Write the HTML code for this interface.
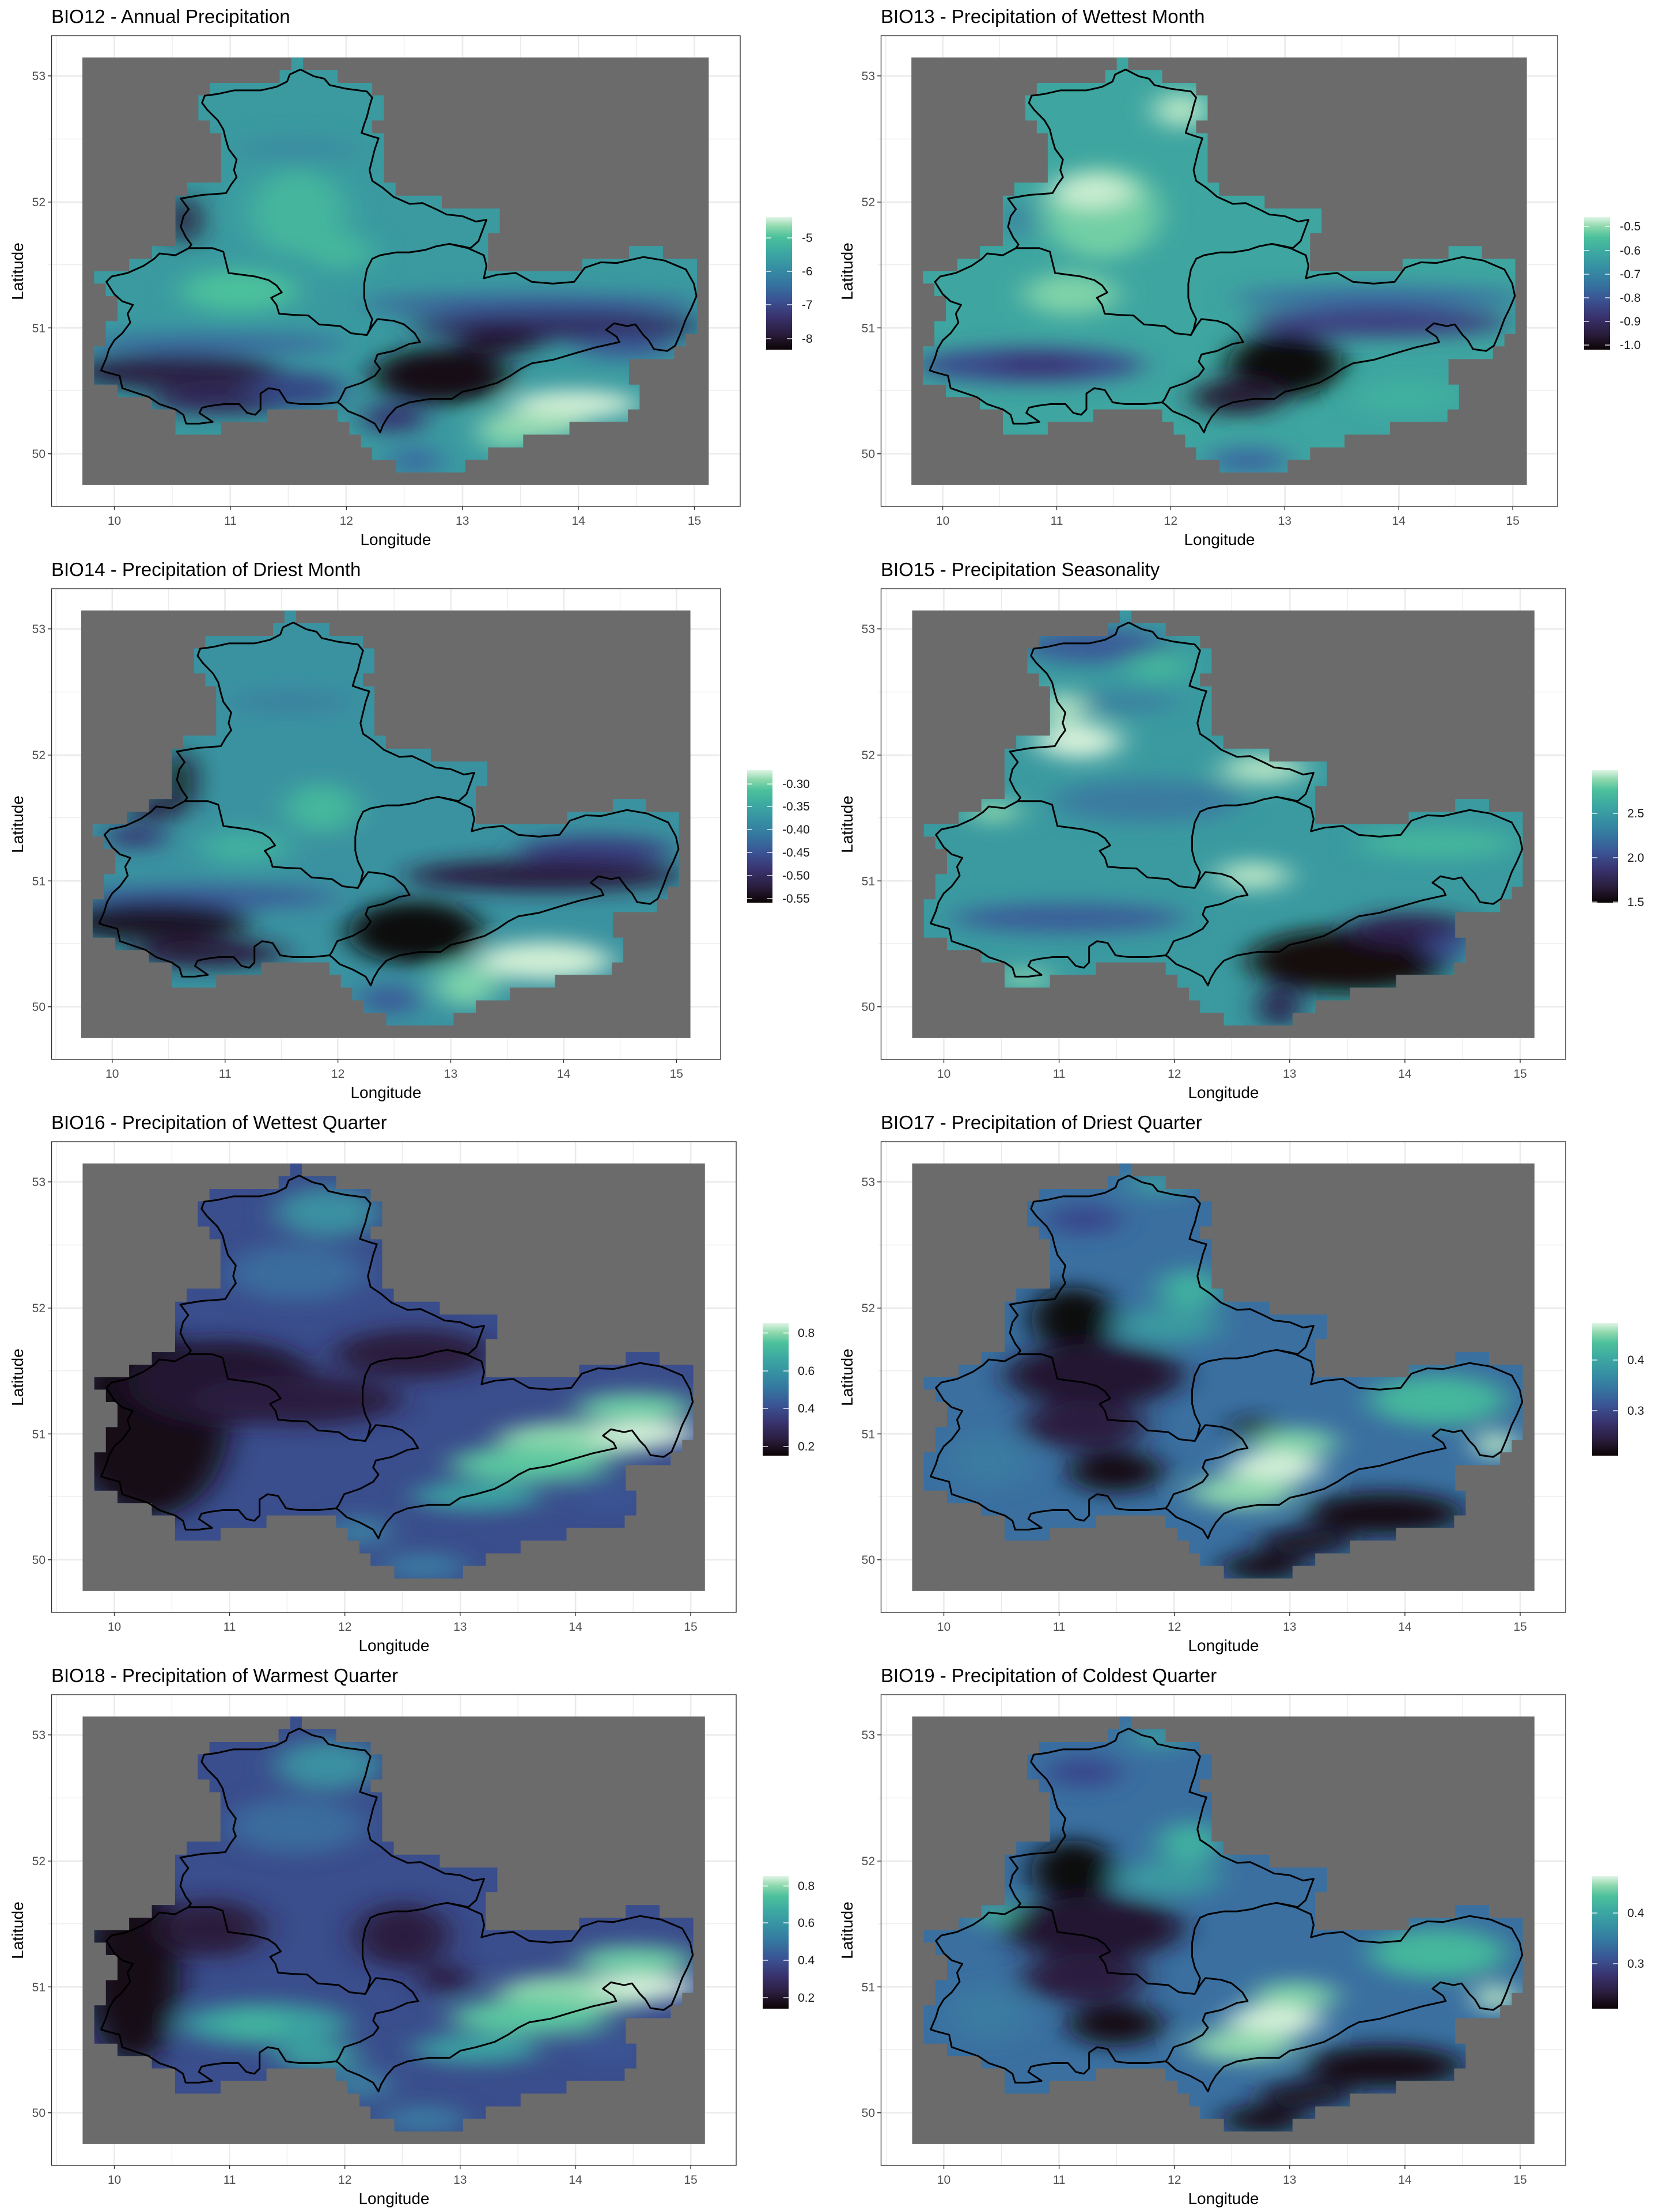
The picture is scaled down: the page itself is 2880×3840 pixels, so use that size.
<!DOCTYPE html>
<html><head><meta charset="utf-8"><style>
html,body{margin:0;padding:0;background:#fff}
svg{display:block}
text{font-family:"Liberation Sans",sans-serif}
.t{font-size:33px;fill:#000}
.tk{font-size:21px;fill:#4d4d4d}
.ax{font-size:28px;fill:#000}
.lg{font-size:21px;fill:#1a1a1a}
</style></head><body>
<svg xmlns="http://www.w3.org/2000/svg" xmlns:xlink="http://www.w3.org/1999/xlink" width="2880" height="3840" viewBox="0 0 2880 3840">
<defs>
<clipPath id="m"><polygon points="548,162 570,162 570,198 635,198 635,234 700,234 700,269 722,269 722,340 700,340 700,376 722,376 722,515 744,515 744,552 831,552 831,588 940,588 940,658 918,658 918,765 1095,765 1095,730 1183,730 1183,694 1247,694 1247,730 1311,730 1311,942 1290,942 1290,977 1268,977 1268,1013 1183,1013 1183,1085 1203,1085 1203,1155 1181,1155 1181,1190 1071,1190 1071,1226 984,1226 984,1262 918,1262 918,1297 875,1297 875,1333 745,1333 745,1297 700,1297 700,1262 679,1262 679,1226 657,1226 657,1190 635,1190 635,1155 503,1155 503,1190 416,1190 416,1226 330,1226 330,1155 286,1155 286,1120 221,1120 221,1085 177,1085 177,977 199,977 199,906 221,906 221,835 199,835 199,800 177,800 177,765 243,765 243,730 286,730 286,694 330,694 330,552 352,552 352,515 416,515 416,376 395,376 395,340 373,340 373,269 395,269 395,234 526,234 526,198 548,198"/></clipPath>
<filter id="b" x="-60%" y="-60%" width="220%" height="220%"><feGaussianBlur stdDeviation="28"/></filter>
<linearGradient id="lgd" x1="0" y1="1" x2="0" y2="0">
<stop offset="0" stop-color="#0b0405"/><stop offset="0.12" stop-color="#2a1d3d"/><stop offset="0.25" stop-color="#39336f"/><stop offset="0.38" stop-color="#3a5494"/><stop offset="0.5" stop-color="#3575a0"/><stop offset="0.62" stop-color="#3690a3"/><stop offset="0.74" stop-color="#3da9a2"/><stop offset="0.85" stop-color="#4cc19b"/><stop offset="0.93" stop-color="#8fd8ad"/><stop offset="1" stop-color="#def5e5"/>
</linearGradient>
<g id="grid" fill="none" stroke="#ebebeb">
<g stroke-width="1.3" vector-effect="non-scaling-stroke">
<line x1="106" y1="101" x2="106" y2="1428" vector-effect="non-scaling-stroke"/><line x1="324" y1="101" x2="324" y2="1428" vector-effect="non-scaling-stroke"/><line x1="542" y1="101" x2="542" y2="1428" vector-effect="non-scaling-stroke"/><line x1="760" y1="101" x2="760" y2="1428" vector-effect="non-scaling-stroke"/><line x1="979" y1="101" x2="979" y2="1428" vector-effect="non-scaling-stroke"/><line x1="1197" y1="101" x2="1197" y2="1428" vector-effect="non-scaling-stroke"/>
<line x1="90" y1="392" x2="1500" y2="392" vector-effect="non-scaling-stroke"/><line x1="90" y1="747" x2="1500" y2="747" vector-effect="non-scaling-stroke"/><line x1="90" y1="1102" x2="1500" y2="1102" vector-effect="non-scaling-stroke"/>
</g>
<g stroke-width="2.6">
<line x1="215" y1="101" x2="215" y2="1428" vector-effect="non-scaling-stroke"/><line x1="433" y1="101" x2="433" y2="1428" vector-effect="non-scaling-stroke"/><line x1="651" y1="101" x2="651" y2="1428" vector-effect="non-scaling-stroke"/><line x1="870" y1="101" x2="870" y2="1428" vector-effect="non-scaling-stroke"/><line x1="1088" y1="101" x2="1088" y2="1428" vector-effect="non-scaling-stroke"/><line x1="1306" y1="101" x2="1306" y2="1428" vector-effect="non-scaling-stroke"/>
<line x1="90" y1="214" x2="1500" y2="214" vector-effect="non-scaling-stroke"/><line x1="90" y1="570" x2="1500" y2="570" vector-effect="non-scaling-stroke"/><line x1="90" y1="925" x2="1500" y2="925" vector-effect="non-scaling-stroke"/><line x1="90" y1="1280" x2="1500" y2="1280" vector-effect="non-scaling-stroke"/>
</g>
</g>
<g id="bd" fill="none" stroke="#000" stroke-width="3" stroke-linejoin="round">
<polyline vector-effect="non-scaling-stroke" points="565,196 590,215 610,222 620,240 650,250 690,258 700,275 695,300 690,330 685,350 680,375 700,385 712,390 705,420 700,450 695,480 700,510 720,530 740,555 770,575 795,573 820,590 840,605 870,610 895,625 915,620 910,640 905,660 900,680 885,700 870,695 845,688 820,695 800,705 770,712 745,712 715,720 700,730 690,760 685,800 685,840 690,870 700,900 695,930 690,945 660,940 640,920 600,915 580,890 550,888 525,885 520,860 510,840 530,825 520,805 505,790 480,780 430,770 425,740 420,710 400,700 370,700 355,700 360,690 350,670 340,640 345,610 355,590 340,560 380,550 425,545 435,520 445,500 440,480 445,450 430,420 425,395 420,365 410,340 390,310 380,290 385,270 410,265 440,255 490,255 520,245 540,230 545,210 565,196"/>
<polyline vector-effect="non-scaling-stroke" points="690,945 700,920 710,900 740,905 760,915 780,940 790,965 770,970 740,990 710,1000 705,1020 715,1040 705,1060 680,1080 650,1095 640,1125 635,1135 600,1140 565,1140 540,1135 525,1100 505,1095 490,1110 490,1155 480,1170 465,1165 450,1140 420,1140 395,1145 380,1150 375,1165 390,1180 400,1190 375,1195 350,1195 345,1170 330,1155 300,1140 280,1120 250,1105 230,1095 225,1060 200,1050 190,1045 200,1010 205,985 215,960 230,940 245,910 240,885 250,860 230,850 215,830 200,795 210,780 240,770 270,750 290,730 300,715 330,720 355,700"/>
<polyline vector-effect="non-scaling-stroke" points="845,688 880,700 910,720 915,750 910,785 935,775 970,770 1000,795 1040,800 1080,795 1100,755 1130,740 1160,742 1210,725 1250,735 1290,760 1305,800 1310,835 1300,870 1290,900 1280,940 1270,975 1255,990 1230,985 1220,960 1210,945 1195,915 1180,920 1155,912 1140,930 1160,950 1165,965 1120,980 1085,995 1040,1015 1000,1025 980,1040 960,1060 935,1080 900,1095 870,1105 850,1125 810,1125 770,1135 745,1150 730,1175 720,1200 715,1220 705,1195 680,1175 655,1160 640,1140 635,1135"/>
</g>
</defs>

<!-- ================= PANEL 1 ================= -->
<g transform="translate(0,0)">
<g transform="matrix(0.923,0,0,0.6154,0,0)"><use xlink:href="#grid"/></g>
<rect x="1285" y="55" width="150" height="830" fill="#fff"/>
<g transform="matrix(0.923,0,0,0.6154,0,0)">
<rect x="155" y="162" width="1178" height="1206" fill="#6b6b6b"/>
<g clip-path="url(#m)"><rect x="150" y="150" width="1200" height="1200" fill="#3a9aa0"/>
<g filter="url(#b)">
<ellipse cx="560" cy="420" rx="120" ry="30" fill="#3a8aa0"/>
<ellipse cx="560" cy="600" rx="90" ry="120" fill="#44b69d"/>
<ellipse cx="450" cy="820" rx="110" ry="60" fill="#4cc19b"/>
<ellipse cx="640" cy="710" rx="60" ry="50" fill="#45b89c"/>
<ellipse cx="345" cy="620" rx="30" ry="70" fill="#2a1d3d"/>
<ellipse cx="400" cy="970" rx="250" ry="30" fill="#3a6a9e"/>
<ellipse cx="330" cy="1050" rx="200" ry="50" fill="#2b2045"/>
<ellipse cx="420" cy="1130" rx="140" ry="40" fill="#302a5a"/>
<ellipse cx="560" cy="1100" rx="90" ry="50" fill="#354785"/>
<ellipse cx="1000" cy="860" rx="320" ry="30" fill="#3a5f98"/>
<ellipse cx="1050" cy="920" rx="280" ry="40" fill="#332e63"/>
<ellipse cx="1180" cy="980" rx="100" ry="30" fill="#3b5a96"/>
<ellipse cx="830" cy="1060" rx="130" ry="80" fill="#150c14"/>
<ellipse cx="940" cy="960" rx="80" ry="40" fill="#241832"/>
<ellipse cx="740" cy="1180" rx="60" ry="40" fill="#35306e"/>
<ellipse cx="1080" cy="1140" rx="120" ry="40" fill="#d5f0d8"/>
<ellipse cx="1000" cy="1200" rx="100" ry="40" fill="#9bdcb3"/>
<ellipse cx="950" cy="1240" rx="50" ry="30" fill="#7ad3ac"/>
<ellipse cx="780" cy="1300" rx="50" ry="40" fill="#3a6aa0"/>
</g></g>
<use xlink:href="#bd"/>
</g>
<rect x="89.5" y="62" width="1195.5" height="817" fill="none" stroke="#333" stroke-width="1.4"/>
<text class="t" x="89" y="40">BIO12 - Annual Precipitation</text>
<g stroke="#333" stroke-width="1.4"><line x1="83" y1="131.7" x2="89.5" y2="131.7"/><line x1="83" y1="350.8" x2="89.5" y2="350.8"/><line x1="83" y1="569.2" x2="89.5" y2="569.2"/><line x1="83" y1="787.7" x2="89.5" y2="787.7"/>
<line x1="198.5" y1="879" x2="198.5" y2="885"/><line x1="399.9" y1="879" x2="399.9" y2="885"/><line x1="601.3" y1="879" x2="601.3" y2="885"/><line x1="802.7" y1="879" x2="802.7" y2="885"/><line x1="1004.1" y1="879" x2="1004.1" y2="885"/><line x1="1205.5" y1="879" x2="1205.5" y2="885"/></g>
<g class="tk" text-anchor="end"><text x="79" y="139">53</text><text x="79" y="358">52</text><text x="79" y="577">51</text><text x="79" y="795">50</text></g>
<g class="tk" text-anchor="middle"><text x="198.5" y="911">10</text><text x="399.9" y="911">11</text><text x="601.3" y="911">12</text><text x="802.7" y="911">13</text><text x="1004.1" y="911">14</text><text x="1205.5" y="911">15</text></g>
<text class="ax" x="687" y="946" text-anchor="middle">Longitude</text>
<text class="ax" transform="translate(40,471) rotate(-90)" text-anchor="middle">Latitude</text>
<rect x="1330" y="377" width="45" height="230" fill="url(#lgd)"/>
<g stroke="#fff" stroke-width="1.3"><line x1="1330" y1="413" x2="1339" y2="413"/><line x1="1366" y1="413" x2="1375" y2="413"/><line x1="1330" y1="471" x2="1339" y2="471"/><line x1="1366" y1="471" x2="1375" y2="471"/><line x1="1330" y1="529" x2="1339" y2="529"/><line x1="1366" y1="529" x2="1375" y2="529"/><line x1="1330" y1="588" x2="1339" y2="588"/><line x1="1366" y1="588" x2="1375" y2="588"/></g>
<g class="lg"><text x="1392" y="420">-5</text><text x="1392" y="478">-6</text><text x="1392" y="536">-7</text><text x="1392" y="595">-8</text></g>
</g>

<!-- ================= PANEL 2 ================= -->
<g transform="translate(1440,0)">
<g transform="matrix(0.907,0,0,0.6154,1.6,0)"><use xlink:href="#grid"/></g>
<rect x="1264" y="55" width="170" height="830" fill="#fff"/>
<g transform="matrix(0.907,0,0,0.6154,1.6,0)">
<rect x="155" y="162" width="1178" height="1206" fill="#6b6b6b"/>
<g clip-path="url(#m)"><rect x="150" y="150" width="1200" height="1200" fill="#3ea5a0"/>
<g filter="url(#b)">
<ellipse cx="520" cy="600" rx="110" ry="130" fill="#72cfa5"/>
<ellipse cx="500" cy="540" rx="80" ry="50" fill="#c8ecd0"/>
<ellipse cx="670" cy="310" rx="50" ry="50" fill="#b7e6c6"/>
<ellipse cx="460" cy="830" rx="90" ry="60" fill="#7fd3a8"/>
<ellipse cx="360" cy="620" rx="30" ry="50" fill="#3a80a0"/>
<ellipse cx="1050" cy="840" rx="280" ry="30" fill="#3a6aa0"/>
<ellipse cx="1050" cy="910" rx="250" ry="40" fill="#3c3d80"/>
<ellipse cx="380" cy="1030" rx="220" ry="50" fill="#3a4a8c"/>
<ellipse cx="400" cy="1030" rx="90" ry="25" fill="#3b2f6e"/>
<ellipse cx="870" cy="1030" rx="110" ry="90" fill="#0f0810"/>
<ellipse cx="780" cy="1120" rx="90" ry="50" fill="#251a35"/>
<ellipse cx="1100" cy="1120" rx="100" ry="40" fill="#41b3a0"/>
<ellipse cx="800" cy="1300" rx="80" ry="40" fill="#3a6aa0"/>
</g></g>
<use xlink:href="#bd"/>
</g>
<rect x="89.5" y="62" width="1174.5" height="817" fill="none" stroke="#333" stroke-width="1.4"/>
<text class="t" x="89" y="40">BIO13 - Precipitation of Wettest Month</text>
<g stroke="#333" stroke-width="1.4"><line x1="83" y1="131.7" x2="89.5" y2="131.7"/><line x1="83" y1="350.8" x2="89.5" y2="350.8"/><line x1="83" y1="569.2" x2="89.5" y2="569.2"/><line x1="83" y1="787.7" x2="89.5" y2="787.7"/>
<line x1="196.6" y1="879" x2="196.6" y2="885"/><line x1="394.5" y1="879" x2="394.5" y2="885"/><line x1="592.4" y1="879" x2="592.4" y2="885"/><line x1="790.3" y1="879" x2="790.3" y2="885"/><line x1="988.2" y1="879" x2="988.2" y2="885"/><line x1="1186.1" y1="879" x2="1186.1" y2="885"/></g>
<g class="tk" text-anchor="end"><text x="79" y="139">53</text><text x="79" y="358">52</text><text x="79" y="577">51</text><text x="79" y="795">50</text></g>
<g class="tk" text-anchor="middle"><text x="196.6" y="911">10</text><text x="394.5" y="911">11</text><text x="592.4" y="911">12</text><text x="790.3" y="911">13</text><text x="988.2" y="911">14</text><text x="1186.1" y="911">15</text></g>
<text class="ax" x="677" y="946" text-anchor="middle">Longitude</text>
<text class="ax" transform="translate(40,471) rotate(-90)" text-anchor="middle">Latitude</text>
<rect x="1310" y="377" width="45" height="230" fill="url(#lgd)"/>
<g stroke="#fff" stroke-width="1.3"><line x1="1310" y1="393" x2="1319" y2="393"/><line x1="1346" y1="393" x2="1355" y2="393"/><line x1="1310" y1="435" x2="1319" y2="435"/><line x1="1346" y1="435" x2="1355" y2="435"/><line x1="1310" y1="476" x2="1319" y2="476"/><line x1="1346" y1="476" x2="1355" y2="476"/><line x1="1310" y1="517" x2="1319" y2="517"/><line x1="1346" y1="517" x2="1355" y2="517"/><line x1="1310" y1="558" x2="1319" y2="558"/><line x1="1346" y1="558" x2="1355" y2="558"/><line x1="1310" y1="599" x2="1319" y2="599"/><line x1="1346" y1="599" x2="1355" y2="599"/></g>
<g class="lg"><text x="1372" y="400">-0.5</text><text x="1372" y="442">-0.6</text><text x="1372" y="483">-0.7</text><text x="1372" y="524">-0.8</text><text x="1372" y="565">-0.9</text><text x="1372" y="606">-1.0</text></g>
</g>

<!-- ================= PANEL 3 ================= -->
<g transform="translate(0,960)">
<g transform="matrix(0.8978,0,0,0.6154,1.8,0)"><use xlink:href="#grid"/></g>
<rect x="1251" y="55" width="180" height="830" fill="#fff"/>
<g transform="matrix(0.8978,0,0,0.6154,1.8,0)">
<rect x="155" y="162" width="1178" height="1206" fill="#6b6b6b"/>
<g clip-path="url(#m)"><rect x="150" y="150" width="1200" height="1200" fill="#3a92a0"/>
<g filter="url(#b)">
<ellipse cx="560" cy="420" rx="120" ry="30" fill="#3a80a0"/>
<ellipse cx="620" cy="720" rx="70" ry="70" fill="#45b89c"/>
<ellipse cx="470" cy="830" rx="90" ry="50" fill="#3fb0a0"/>
<ellipse cx="345" cy="640" rx="25" ry="80" fill="#150c14"/>
<ellipse cx="300" cy="720" rx="60" ry="30" fill="#2a1d3d"/>
<ellipse cx="260" cy="800" rx="60" ry="30" fill="#35306e"/>
<ellipse cx="400" cy="970" rx="250" ry="30" fill="#3a5a98"/>
<ellipse cx="300" cy="1040" rx="180" ry="55" fill="#1e1428"/>
<ellipse cx="400" cy="1130" rx="150" ry="40" fill="#2a1d3d"/>
<ellipse cx="1150" cy="840" rx="150" ry="40" fill="#383d7e"/>
<ellipse cx="1050" cy="910" rx="270" ry="45" fill="#2b1f40"/>
<ellipse cx="800" cy="1070" rx="130" ry="90" fill="#0e0710"/>
<ellipse cx="1050" cy="1150" rx="130" ry="55" fill="#d0eed5"/>
<ellipse cx="900" cy="1220" rx="60" ry="60" fill="#7cd3ab"/>
<ellipse cx="750" cy="1260" rx="60" ry="40" fill="#3a5a98"/>
</g></g>
<use xlink:href="#bd"/>
</g>
<rect x="89.5" y="62" width="1161.5" height="817" fill="none" stroke="#333" stroke-width="1.4"/>
<text class="t" x="89" y="40">BIO14 - Precipitation of Driest Month</text>
<g stroke="#333" stroke-width="1.4"><line x1="83" y1="131.7" x2="89.5" y2="131.7"/><line x1="83" y1="350.8" x2="89.5" y2="350.8"/><line x1="83" y1="569.2" x2="89.5" y2="569.2"/><line x1="83" y1="787.7" x2="89.5" y2="787.7"/>
<line x1="194.8" y1="879" x2="194.8" y2="885"/><line x1="390.7" y1="879" x2="390.7" y2="885"/><line x1="586.6" y1="879" x2="586.6" y2="885"/><line x1="782.5" y1="879" x2="782.5" y2="885"/><line x1="978.4" y1="879" x2="978.4" y2="885"/><line x1="1174.3" y1="879" x2="1174.3" y2="885"/></g>
<g class="tk" text-anchor="end"><text x="79" y="139">53</text><text x="79" y="358">52</text><text x="79" y="577">51</text><text x="79" y="795">50</text></g>
<g class="tk" text-anchor="middle"><text x="194.8" y="911">10</text><text x="390.7" y="911">11</text><text x="586.6" y="911">12</text><text x="782.5" y="911">13</text><text x="978.4" y="911">14</text><text x="1174.3" y="911">15</text></g>
<text class="ax" x="670" y="946" text-anchor="middle">Longitude</text>
<text class="ax" transform="translate(40,471) rotate(-90)" text-anchor="middle">Latitude</text>
<rect x="1297" y="377" width="44" height="230" fill="url(#lgd)"/>
<g stroke="#fff" stroke-width="1.3"><line x1="1297" y1="401" x2="1306" y2="401"/><line x1="1332" y1="401" x2="1341" y2="401"/><line x1="1297" y1="440" x2="1306" y2="440"/><line x1="1332" y1="440" x2="1341" y2="440"/><line x1="1297" y1="480" x2="1306" y2="480"/><line x1="1332" y1="480" x2="1341" y2="480"/><line x1="1297" y1="520" x2="1306" y2="520"/><line x1="1332" y1="520" x2="1341" y2="520"/><line x1="1297" y1="560" x2="1306" y2="560"/><line x1="1332" y1="560" x2="1341" y2="560"/><line x1="1297" y1="600" x2="1306" y2="600"/><line x1="1332" y1="600" x2="1341" y2="600"/></g>
<g class="lg"><text x="1358" y="408">-0.30</text><text x="1358" y="447">-0.35</text><text x="1358" y="487">-0.40</text><text x="1358" y="527">-0.45</text><text x="1358" y="567">-0.50</text><text x="1358" y="607">-0.55</text></g>
</g>

<!-- ================= PANEL 4 ================= -->
<g transform="translate(1440,960)">
<g transform="matrix(0.9171,0,0,0.6154,1.3,0)"><use xlink:href="#grid"/></g>
<rect x="1278" y="55" width="155" height="830" fill="#fff"/>
<g transform="matrix(0.9171,0,0,0.6154,1.3,0)">
<rect x="155" y="162" width="1178" height="1206" fill="#6b6b6b"/>
<g clip-path="url(#m)"><rect x="150" y="150" width="1200" height="1200" fill="#3a9aa0"/>
<g filter="url(#b)">
<ellipse cx="500" cy="260" rx="140" ry="50" fill="#3a5c98"/>
<ellipse cx="620" cy="320" rx="60" ry="40" fill="#45b89c"/>
<ellipse cx="560" cy="420" rx="100" ry="30" fill="#3a80a0"/>
<ellipse cx="470" cy="530" rx="80" ry="50" fill="#d5f0d9"/>
<ellipse cx="440" cy="440" rx="40" ry="50" fill="#b6e4c5"/>
<ellipse cx="820" cy="610" rx="80" ry="40" fill="#b5e4c4"/>
<ellipse cx="600" cy="700" rx="180" ry="60" fill="#3a7aa0"/>
<ellipse cx="310" cy="730" rx="50" ry="30" fill="#8fd8ad"/>
<ellipse cx="800" cy="910" rx="70" ry="40" fill="#b6e4c6"/>
<ellipse cx="1150" cy="820" rx="150" ry="40" fill="#45b89c"/>
<ellipse cx="450" cy="1030" rx="220" ry="40" fill="#3a5c98"/>
<ellipse cx="370" cy="1200" rx="50" ry="25" fill="#8fd8ad"/>
<ellipse cx="980" cy="1150" rx="190" ry="90" fill="#120910"/>
<ellipse cx="1100" cy="1060" rx="120" ry="45" fill="#2d2350"/>
<ellipse cx="850" cy="1280" rx="40" ry="60" fill="#2a2350"/>
<ellipse cx="1170" cy="1110" rx="40" ry="40" fill="#3a4e90"/>
</g></g>
<use xlink:href="#bd"/>
</g>
<rect x="89.5" y="62" width="1188.5" height="817" fill="none" stroke="#333" stroke-width="1.4"/>
<text class="t" x="89" y="40">BIO15 - Precipitation Seasonality</text>
<g stroke="#333" stroke-width="1.4"><line x1="83" y1="131.7" x2="89.5" y2="131.7"/><line x1="83" y1="350.8" x2="89.5" y2="350.8"/><line x1="83" y1="569.2" x2="89.5" y2="569.2"/><line x1="83" y1="787.7" x2="89.5" y2="787.7"/>
<line x1="198.5" y1="879" x2="198.5" y2="885"/><line x1="398.6" y1="879" x2="398.6" y2="885"/><line x1="598.7" y1="879" x2="598.7" y2="885"/><line x1="798.8" y1="879" x2="798.8" y2="885"/><line x1="998.9" y1="879" x2="998.9" y2="885"/><line x1="1199" y1="879" x2="1199" y2="885"/></g>
<g class="tk" text-anchor="end"><text x="79" y="139">53</text><text x="79" y="358">52</text><text x="79" y="577">51</text><text x="79" y="795">50</text></g>
<g class="tk" text-anchor="middle"><text x="198.5" y="911">10</text><text x="398.6" y="911">11</text><text x="598.7" y="911">12</text><text x="798.8" y="911">13</text><text x="998.9" y="911">14</text><text x="1199" y="911">15</text></g>
<text class="ax" x="684" y="946" text-anchor="middle">Longitude</text>
<text class="ax" transform="translate(40,471) rotate(-90)" text-anchor="middle">Latitude</text>
<rect x="1324" y="377" width="45" height="230" fill="url(#lgd)"/>
<g stroke="#fff" stroke-width="1.3"><line x1="1324" y1="452" x2="1333" y2="452"/><line x1="1360" y1="452" x2="1369" y2="452"/><line x1="1324" y1="529" x2="1333" y2="529"/><line x1="1360" y1="529" x2="1369" y2="529"/><line x1="1324" y1="606" x2="1333" y2="606"/><line x1="1360" y1="606" x2="1369" y2="606"/></g>
<g class="lg"><text x="1385" y="459">2.5</text><text x="1385" y="536">2.0</text><text x="1385" y="613">1.5</text></g>
</g>

<!-- ================= PANEL 5 ================= -->
<g transform="translate(0,1920)">
<g transform="matrix(0.9171,0,0,0.6154,1.3,0)"><use xlink:href="#grid"/></g>
<rect x="1278" y="55" width="155" height="830" fill="#fff"/>
<g transform="matrix(0.9171,0,0,0.6154,1.3,0)">
<rect x="155" y="162" width="1178" height="1206" fill="#6b6b6b"/>
<g clip-path="url(#m)"><rect x="150" y="150" width="1200" height="1200" fill="#3a4d8c"/>
<g filter="url(#b)">
<ellipse cx="620" cy="300" rx="100" ry="70" fill="#3a90a0"/>
<ellipse cx="560" cy="470" rx="130" ry="80" fill="#3a6c9e"/>
<ellipse cx="280" cy="900" rx="150" ry="260" fill="#160c16"/>
<ellipse cx="420" cy="780" rx="180" ry="120" fill="#221830"/>
<ellipse cx="560" cy="830" rx="200" ry="70" fill="#2a1f40"/>
<ellipse cx="780" cy="700" rx="150" ry="70" fill="#2a1f3d"/>
<ellipse cx="1200" cy="850" rx="110" ry="40" fill="#6dcfa5"/>
<ellipse cx="1100" cy="940" rx="160" ry="50" fill="#8fd8ad"/>
<ellipse cx="1220" cy="925" rx="100" ry="35" fill="#d8f2dc"/>
<ellipse cx="1000" cy="1010" rx="150" ry="50" fill="#5cc8a0"/>
<ellipse cx="900" cy="1100" rx="120" ry="40" fill="#3aa4a2"/>
<ellipse cx="1150" cy="1100" rx="80" ry="40" fill="#3a5494"/>
<ellipse cx="800" cy="1300" rx="80" ry="40" fill="#3a7aa0"/>
<ellipse cx="680" cy="1200" rx="60" ry="40" fill="#3a80a0"/>
</g></g>
<use xlink:href="#bd"/>
</g>
<rect x="89.5" y="62" width="1188.5" height="817" fill="none" stroke="#333" stroke-width="1.4"/>
<text class="t" x="89" y="40">BIO16 - Precipitation of Wettest Quarter</text>
<g stroke="#333" stroke-width="1.4"><line x1="83" y1="131.7" x2="89.5" y2="131.7"/><line x1="83" y1="350.8" x2="89.5" y2="350.8"/><line x1="83" y1="569.2" x2="89.5" y2="569.2"/><line x1="83" y1="787.7" x2="89.5" y2="787.7"/>
<line x1="198.5" y1="879" x2="198.5" y2="885"/><line x1="398.6" y1="879" x2="398.6" y2="885"/><line x1="598.7" y1="879" x2="598.7" y2="885"/><line x1="798.8" y1="879" x2="798.8" y2="885"/><line x1="998.9" y1="879" x2="998.9" y2="885"/><line x1="1199" y1="879" x2="1199" y2="885"/></g>
<g class="tk" text-anchor="end"><text x="79" y="139">53</text><text x="79" y="358">52</text><text x="79" y="577">51</text><text x="79" y="795">50</text></g>
<g class="tk" text-anchor="middle"><text x="198.5" y="911">10</text><text x="398.6" y="911">11</text><text x="598.7" y="911">12</text><text x="798.8" y="911">13</text><text x="998.9" y="911">14</text><text x="1199" y="911">15</text></g>
<text class="ax" x="684" y="946" text-anchor="middle">Longitude</text>
<text class="ax" transform="translate(40,471) rotate(-90)" text-anchor="middle">Latitude</text>
<rect x="1324" y="377" width="45" height="230" fill="url(#lgd)"/>
<g stroke="#fff" stroke-width="1.3"><line x1="1324" y1="394" x2="1333" y2="394"/><line x1="1360" y1="394" x2="1369" y2="394"/><line x1="1324" y1="460" x2="1333" y2="460"/><line x1="1360" y1="460" x2="1369" y2="460"/><line x1="1324" y1="525" x2="1333" y2="525"/><line x1="1360" y1="525" x2="1369" y2="525"/><line x1="1324" y1="591" x2="1333" y2="591"/><line x1="1360" y1="591" x2="1369" y2="591"/></g>
<g class="lg"><text x="1385" y="401">0.8</text><text x="1385" y="467">0.6</text><text x="1385" y="532">0.4</text><text x="1385" y="598">0.2</text></g>
</g>

<!-- ================= PANEL 6 ================= -->
<g transform="translate(1440,1920)">
<g transform="matrix(0.9171,0,0,0.6154,1.3,0)"><use xlink:href="#grid"/></g>
<rect x="1278" y="55" width="155" height="830" fill="#fff"/>
<g transform="matrix(0.9171,0,0,0.6154,1.3,0)">
<rect x="155" y="162" width="1178" height="1206" fill="#6b6b6b"/>
<g clip-path="url(#m)"><rect x="150" y="150" width="1200" height="1200" fill="#3a6fa0"/>
<g filter="url(#b)">
<ellipse cx="620" cy="220" rx="60" ry="30" fill="#3aa0a0"/>
<ellipse cx="480" cy="320" rx="70" ry="40" fill="#38448a"/>
<ellipse cx="680" cy="520" rx="60" ry="60" fill="#3fb0a0"/>
<ellipse cx="640" cy="620" rx="100" ry="50" fill="#3a9aa0"/>
<ellipse cx="460" cy="600" rx="80" ry="90" fill="#0e0710"/>
<ellipse cx="500" cy="760" rx="170" ry="90" fill="#241831"/>
<ellipse cx="480" cy="900" rx="120" ry="70" fill="#2a1f40"/>
<ellipse cx="540" cy="1030" rx="90" ry="60" fill="#150c14"/>
<ellipse cx="300" cy="1000" rx="80" ry="80" fill="#3a7aa0"/>
<ellipse cx="800" cy="905" rx="40" ry="25" fill="#150c14"/>
<ellipse cx="880" cy="950" rx="80" ry="40" fill="#7fd3a8"/>
<ellipse cx="840" cy="1020" rx="90" ry="45" fill="#d5f0d9"/>
<ellipse cx="780" cy="1090" rx="100" ry="45" fill="#8fd8ad"/>
<ellipse cx="1150" cy="830" rx="130" ry="70" fill="#45b89c"/>
<ellipse cx="1260" cy="955" rx="40" ry="40" fill="#b6e4c5"/>
<ellipse cx="1050" cy="1150" rx="150" ry="60" fill="#150c14"/>
<ellipse cx="900" cy="1230" rx="90" ry="40" fill="#1e1428"/>
<ellipse cx="820" cy="1300" rx="80" ry="40" fill="#150c14"/>
</g></g>
<use xlink:href="#bd"/>
</g>
<rect x="89.5" y="62" width="1188.5" height="817" fill="none" stroke="#333" stroke-width="1.4"/>
<text class="t" x="89" y="40">BIO17 - Precipitation of Driest Quarter</text>
<g stroke="#333" stroke-width="1.4"><line x1="83" y1="131.7" x2="89.5" y2="131.7"/><line x1="83" y1="350.8" x2="89.5" y2="350.8"/><line x1="83" y1="569.2" x2="89.5" y2="569.2"/><line x1="83" y1="787.7" x2="89.5" y2="787.7"/>
<line x1="198.5" y1="879" x2="198.5" y2="885"/><line x1="398.6" y1="879" x2="398.6" y2="885"/><line x1="598.7" y1="879" x2="598.7" y2="885"/><line x1="798.8" y1="879" x2="798.8" y2="885"/><line x1="998.9" y1="879" x2="998.9" y2="885"/><line x1="1199" y1="879" x2="1199" y2="885"/></g>
<g class="tk" text-anchor="end"><text x="79" y="139">53</text><text x="79" y="358">52</text><text x="79" y="577">51</text><text x="79" y="795">50</text></g>
<g class="tk" text-anchor="middle"><text x="198.5" y="911">10</text><text x="398.6" y="911">11</text><text x="598.7" y="911">12</text><text x="798.8" y="911">13</text><text x="998.9" y="911">14</text><text x="1199" y="911">15</text></g>
<text class="ax" x="684" y="946" text-anchor="middle">Longitude</text>
<text class="ax" transform="translate(40,471) rotate(-90)" text-anchor="middle">Latitude</text>
<rect x="1324" y="377" width="45" height="230" fill="url(#lgd)"/>
<g stroke="#fff" stroke-width="1.3"><line x1="1324" y1="441" x2="1333" y2="441"/><line x1="1360" y1="441" x2="1369" y2="441"/><line x1="1324" y1="529" x2="1333" y2="529"/><line x1="1360" y1="529" x2="1369" y2="529"/></g>
<g class="lg"><text x="1385" y="448">0.4</text><text x="1385" y="536">0.3</text></g>
</g>

<!-- ================= PANEL 7 ================= -->
<g transform="translate(0,2880)">
<g transform="matrix(0.9171,0,0,0.6154,1.3,0)"><use xlink:href="#grid"/></g>
<rect x="1278" y="55" width="155" height="830" fill="#fff"/>
<g transform="matrix(0.9171,0,0,0.6154,1.3,0)">
<rect x="155" y="162" width="1178" height="1206" fill="#6b6b6b"/>
<g clip-path="url(#m)"><rect x="150" y="150" width="1200" height="1200" fill="#3a4d8c"/>
<g filter="url(#b)">
<ellipse cx="620" cy="300" rx="100" ry="70" fill="#3a90a0"/>
<ellipse cx="560" cy="470" rx="130" ry="80" fill="#3a6c9e"/>
<ellipse cx="250" cy="880" rx="90" ry="260" fill="#160c16"/>
<ellipse cx="400" cy="760" rx="100" ry="80" fill="#2a1f3d"/>
<ellipse cx="760" cy="780" rx="90" ry="90" fill="#2a1f40"/>
<ellipse cx="840" cy="900" rx="50" ry="40" fill="#2a1f40"/>
<ellipse cx="500" cy="1030" rx="160" ry="60" fill="#3aa0a0"/>
<ellipse cx="480" cy="1030" rx="60" ry="30" fill="#45b89c"/>
<ellipse cx="600" cy="1120" rx="80" ry="40" fill="#3aa2a0"/>
<ellipse cx="1200" cy="850" rx="110" ry="40" fill="#6dcfa5"/>
<ellipse cx="1100" cy="940" rx="160" ry="50" fill="#8fd8ad"/>
<ellipse cx="1220" cy="925" rx="100" ry="35" fill="#d8f2dc"/>
<ellipse cx="1000" cy="1010" rx="150" ry="50" fill="#5cc8a0"/>
<ellipse cx="900" cy="1100" rx="120" ry="40" fill="#3aa4a2"/>
<ellipse cx="1150" cy="1100" rx="80" ry="40" fill="#3a5494"/>
<ellipse cx="800" cy="1300" rx="80" ry="40" fill="#3a7aa0"/>
<ellipse cx="680" cy="1200" rx="60" ry="40" fill="#3a80a0"/>
</g></g>
<use xlink:href="#bd"/>
</g>
<rect x="89.5" y="62" width="1188.5" height="817" fill="none" stroke="#333" stroke-width="1.4"/>
<text class="t" x="89" y="40">BIO18 - Precipitation of Warmest Quarter</text>
<g stroke="#333" stroke-width="1.4"><line x1="83" y1="131.7" x2="89.5" y2="131.7"/><line x1="83" y1="350.8" x2="89.5" y2="350.8"/><line x1="83" y1="569.2" x2="89.5" y2="569.2"/><line x1="83" y1="787.7" x2="89.5" y2="787.7"/>
<line x1="198.5" y1="879" x2="198.5" y2="885"/><line x1="398.6" y1="879" x2="398.6" y2="885"/><line x1="598.7" y1="879" x2="598.7" y2="885"/><line x1="798.8" y1="879" x2="798.8" y2="885"/><line x1="998.9" y1="879" x2="998.9" y2="885"/><line x1="1199" y1="879" x2="1199" y2="885"/></g>
<g class="tk" text-anchor="end"><text x="79" y="139">53</text><text x="79" y="358">52</text><text x="79" y="577">51</text><text x="79" y="795">50</text></g>
<g class="tk" text-anchor="middle"><text x="198.5" y="911">10</text><text x="398.6" y="911">11</text><text x="598.7" y="911">12</text><text x="798.8" y="911">13</text><text x="998.9" y="911">14</text><text x="1199" y="911">15</text></g>
<text class="ax" x="684" y="946" text-anchor="middle">Longitude</text>
<text class="ax" transform="translate(40,471) rotate(-90)" text-anchor="middle">Latitude</text>
<rect x="1324" y="377" width="45" height="230" fill="url(#lgd)"/>
<g stroke="#fff" stroke-width="1.3"><line x1="1324" y1="394" x2="1333" y2="394"/><line x1="1360" y1="394" x2="1369" y2="394"/><line x1="1324" y1="458" x2="1333" y2="458"/><line x1="1360" y1="458" x2="1369" y2="458"/><line x1="1324" y1="523" x2="1333" y2="523"/><line x1="1360" y1="523" x2="1369" y2="523"/><line x1="1324" y1="588" x2="1333" y2="588"/><line x1="1360" y1="588" x2="1369" y2="588"/></g>
<g class="lg"><text x="1385" y="401">0.8</text><text x="1385" y="465">0.6</text><text x="1385" y="530">0.4</text><text x="1385" y="595">0.2</text></g>
</g>

<!-- ================= PANEL 8 ================= -->
<g transform="translate(1440,2880)">
<g transform="matrix(0.9171,0,0,0.6154,1.3,0)"><use xlink:href="#grid"/></g>
<rect x="1278" y="55" width="155" height="830" fill="#fff"/>
<g transform="matrix(0.9171,0,0,0.6154,1.3,0)">
<rect x="155" y="162" width="1178" height="1206" fill="#6b6b6b"/>
<g clip-path="url(#m)"><rect x="150" y="150" width="1200" height="1200" fill="#3a6fa0"/>
<g filter="url(#b)">
<ellipse cx="620" cy="220" rx="60" ry="30" fill="#3aa0a0"/>
<ellipse cx="480" cy="320" rx="70" ry="40" fill="#38448a"/>
<ellipse cx="680" cy="520" rx="60" ry="60" fill="#3fb0a0"/>
<ellipse cx="640" cy="620" rx="100" ry="50" fill="#3a9aa0"/>
<ellipse cx="320" cy="720" rx="50" ry="30" fill="#45b89c"/>
<ellipse cx="460" cy="600" rx="80" ry="90" fill="#0e0710"/>
<ellipse cx="500" cy="760" rx="170" ry="90" fill="#241831"/>
<ellipse cx="480" cy="900" rx="120" ry="70" fill="#2a1f40"/>
<ellipse cx="540" cy="1030" rx="90" ry="60" fill="#150c14"/>
<ellipse cx="300" cy="1000" rx="80" ry="80" fill="#3a7aa0"/>
<ellipse cx="880" cy="950" rx="80" ry="40" fill="#7fd3a8"/>
<ellipse cx="840" cy="1020" rx="90" ry="45" fill="#d5f0d9"/>
<ellipse cx="780" cy="1090" rx="100" ry="45" fill="#8fd8ad"/>
<ellipse cx="1150" cy="830" rx="130" ry="70" fill="#45b89c"/>
<ellipse cx="1260" cy="955" rx="40" ry="40" fill="#b6e4c5"/>
<ellipse cx="1050" cy="1150" rx="150" ry="60" fill="#150c14"/>
<ellipse cx="900" cy="1230" rx="90" ry="40" fill="#1e1428"/>
<ellipse cx="820" cy="1300" rx="80" ry="40" fill="#150c14"/>
</g></g>
<use xlink:href="#bd"/>
</g>
<rect x="89.5" y="62" width="1188.5" height="817" fill="none" stroke="#333" stroke-width="1.4"/>
<text class="t" x="89" y="40">BIO19 - Precipitation of Coldest Quarter</text>
<g stroke="#333" stroke-width="1.4"><line x1="83" y1="131.7" x2="89.5" y2="131.7"/><line x1="83" y1="350.8" x2="89.5" y2="350.8"/><line x1="83" y1="569.2" x2="89.5" y2="569.2"/><line x1="83" y1="787.7" x2="89.5" y2="787.7"/>
<line x1="198.5" y1="879" x2="198.5" y2="885"/><line x1="398.6" y1="879" x2="398.6" y2="885"/><line x1="598.7" y1="879" x2="598.7" y2="885"/><line x1="798.8" y1="879" x2="798.8" y2="885"/><line x1="998.9" y1="879" x2="998.9" y2="885"/><line x1="1199" y1="879" x2="1199" y2="885"/></g>
<g class="tk" text-anchor="end"><text x="79" y="139">53</text><text x="79" y="358">52</text><text x="79" y="577">51</text><text x="79" y="795">50</text></g>
<g class="tk" text-anchor="middle"><text x="198.5" y="911">10</text><text x="398.6" y="911">11</text><text x="598.7" y="911">12</text><text x="798.8" y="911">13</text><text x="998.9" y="911">14</text><text x="1199" y="911">15</text></g>
<text class="ax" x="684" y="946" text-anchor="middle">Longitude</text>
<text class="ax" transform="translate(40,471) rotate(-90)" text-anchor="middle">Latitude</text>
<rect x="1324" y="377" width="45" height="230" fill="url(#lgd)"/>
<g stroke="#fff" stroke-width="1.3"><line x1="1324" y1="441" x2="1333" y2="441"/><line x1="1360" y1="441" x2="1369" y2="441"/><line x1="1324" y1="529" x2="1333" y2="529"/><line x1="1360" y1="529" x2="1369" y2="529"/></g>
<g class="lg"><text x="1385" y="448">0.4</text><text x="1385" y="536">0.3</text></g>
</g>
</svg>
</body></html>
